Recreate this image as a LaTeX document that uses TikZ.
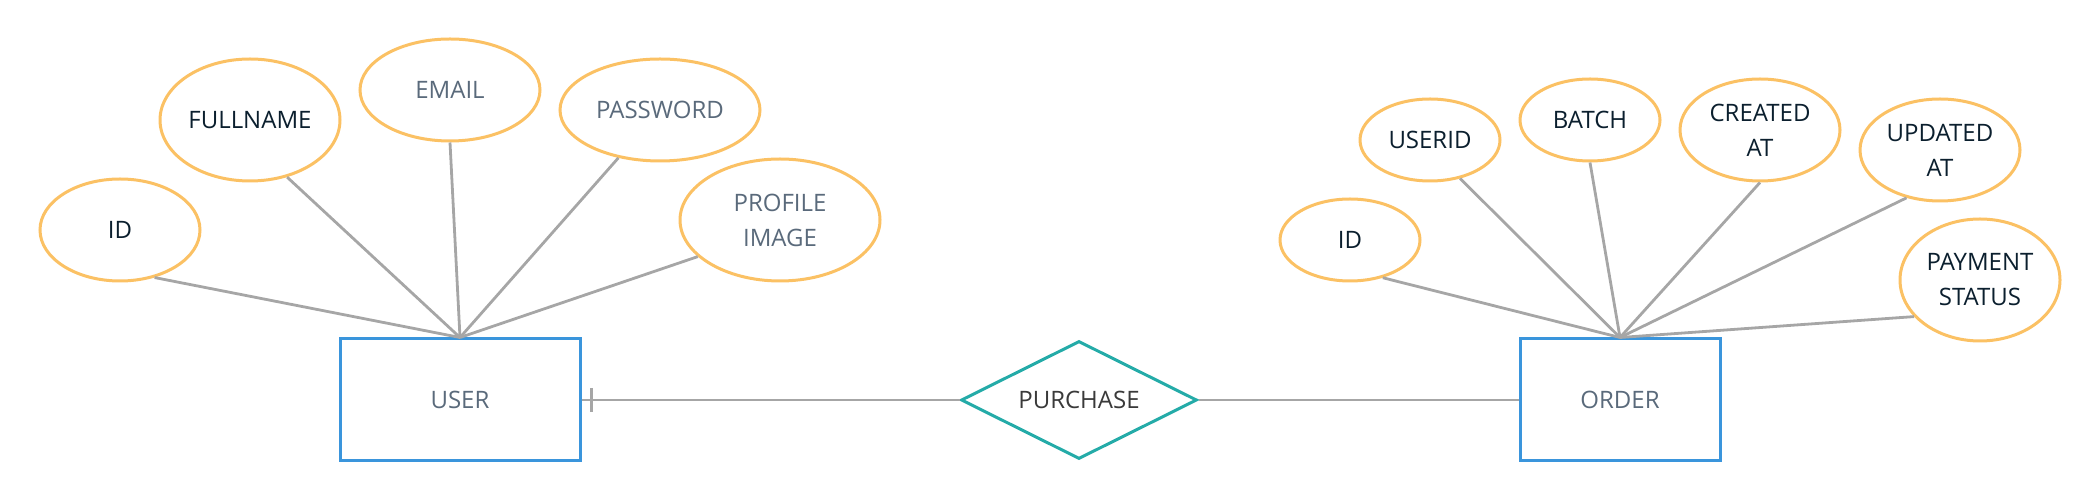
\documentclass[tikz,border=0pt]{standalone}
\usepackage{fontspec}
\setmainfont{Open Sans}
\usetikzlibrary{shapes.geometric}
\definecolor{attrline}{HTML}{FBC164}
\definecolor{entline}{HTML}{3A95DC}
\definecolor{relline}{HTML}{24ABA8}
\definecolor{linkgray}{HTML}{A6A6A6}
\definecolor{darktext}{HTML}{0B1F2E}
\definecolor{graytext}{HTML}{5A6A7B}
\definecolor{reltext}{HTML}{3A3A3A}
\tikzset{
	attr/.style={ellipse,draw=attrline,line width=1.5pt,fill=white,inner sep=0,
		text=darktext,align=center},
	entity/.style={rectangle,draw=entline,line width=1.5pt,fill=white,inner sep=0,
		text=graytext,minimum height=61pt},
	rel/.style={diamond,aspect=2,draw=relline,line width=1.5pt,fill=white,inner sep=0,
		text=reltext,minimum width=118pt,minimum height=59pt},
	link/.style={draw=linkgray,line width=1.4pt}
}
\begin{document}
\begin{tikzpicture}[x=0.5pt,y=-0.5pt,
	every node/.style={font=\fontsize{12}{17.5}\selectfont}]
\useasboundingbox (0,0) rectangle (2100,501);
% entities and relation
\node[entity,minimum width=120pt] (user) at (460,400) {USER};
\node[entity,minimum width=100pt] (order) at (1620,400) {ORDER};
\node[rel] (purchase) at (1079,400) {PURCHASE};
% user attributes
\node[attr,minimum width=80pt,minimum height=51pt] (uid) at (120,230) {ID};
\node[attr,minimum width=90pt,minimum height=61pt] (fullname) at (250,120) {FULLNAME};
\node[attr,minimum width=90pt,minimum height=51pt,text=graytext] (email) at (450,90) {EMAIL};
\node[attr,minimum width=100pt,minimum height=51pt,text=graytext] (password) at (660,110) {PASSWORD};
\node[attr,minimum width=100pt,minimum height=61pt,text=graytext] (profile) at (780,220) {PROFILE\\IMAGE};
% order attributes
\node[attr,minimum width=70pt,minimum height=41pt] (oid) at (1350,240) {ID};
\node[attr,minimum width=70pt,minimum height=41pt] (userid) at (1430,140) {USERID};
\node[attr,minimum width=70pt,minimum height=41pt] (batch) at (1590,120) {BATCH};
\node[attr,minimum width=80pt,minimum height=51pt] (created) at (1760,130) {CREATED\\AT};
\node[attr,minimum width=80pt,minimum height=51pt] (updated) at (1940,150) {UPDATED\\AT};
\node[attr,minimum width=80pt,minimum height=61pt] (payment) at (1980,280) {PAYMENT\\STATUS};
% links
\draw[link] (user.north) -- (uid.-54);
\draw[link] (user.north) -- (fullname.-57);
\draw[link] (user.north) -- (email.south);
\draw[link] (user.north) -- (password.-131);
\draw[link] (user.north) -- (profile.-156);
\draw[link] (order.north) -- (oid.-49);
\draw[link] (order.north) -- (userid.-52);
\draw[link] (order.north) -- (batch.south);
\draw[link] (order.north) -- (created.south);
\draw[link] (order.north) -- (updated.-125);
\draw[link] (order.north) -- (payment.-151);
\draw[link] (user.east) -- (purchase.west);
\draw[link] (user.east) ++(10,-12) -- ++(0,24);
\draw[link] (purchase.east) -- (order.west);
\end{tikzpicture}
\end{document}
